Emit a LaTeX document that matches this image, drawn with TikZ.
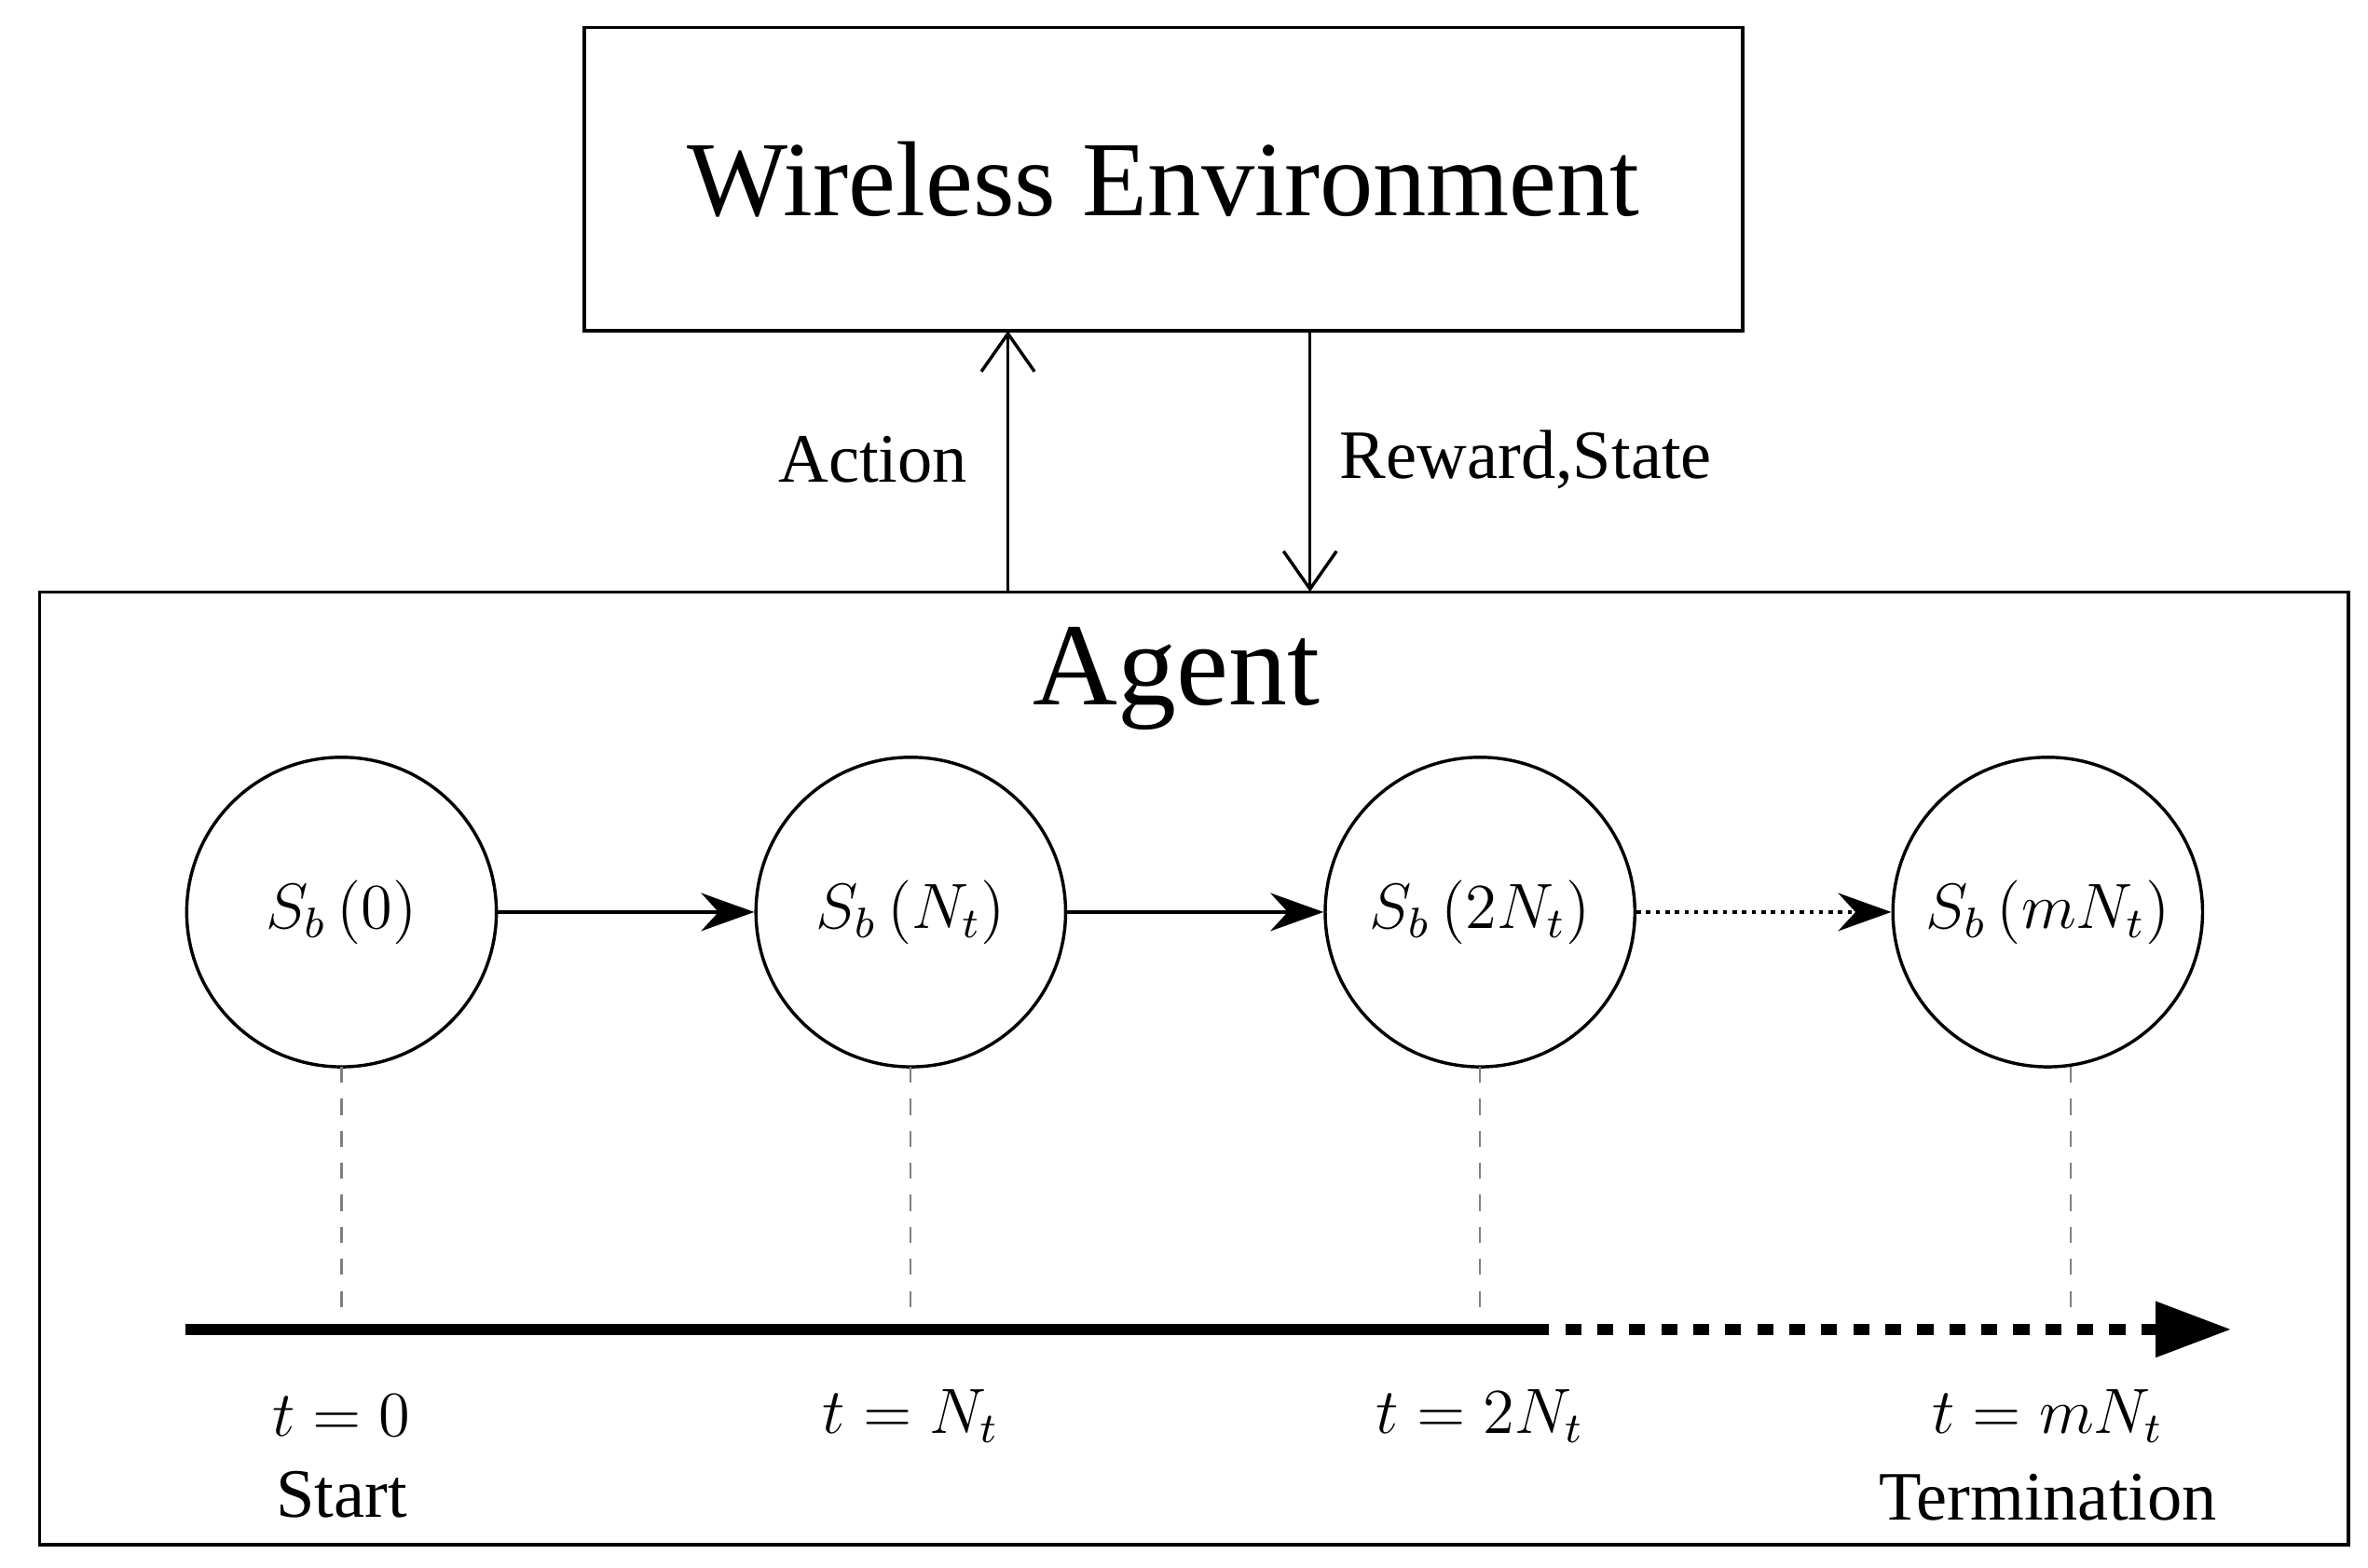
\documentclass[tikz,border=0pt]{standalone}
\usepackage{amsmath,amssymb}
\usepackage{fontspec}
\setmainfont{Liberation Serif}
\usetikzlibrary{arrows.meta}
\begin{document}
\begin{tikzpicture}[
    semithick,
    envbox/.style = {draw, minimum width=7.63cm, minimum height=2cm, font=\fontsize{20}{24}\selectfont},
    agentbox/.style = {draw, minimum width=15.21cm, minimum height=6.28cm},
    state/.style = {circle, draw, minimum size=2.04cm, inner sep=0pt, font=\large},
    line/.style = {-{Stealth[length=3.5mm,width=2.5mm]}, draw=black, thick},
    lbl/.style = {font=\fontsize{13}{15}\selectfont}
    ]
    \useasboundingbox (0,0) rectangle (15.6,10.33);
    \tikzstyle{drop_style} = [draw=gray, dashed, thin]
    \tikzstyle{axis_style} = [draw=black, line width=2.2pt]
    \node (Env) [envbox] at (7.665, 9.15) {Wireless Environment};
    \node (Agent) [agentbox] at (7.865, 3.29) {};
    \node [font=\fontsize{22}{26}\selectfont] at (7.75, 5.86) {Agent};

    % action / reward
    \coordinate (aB) at (6.64, 6.43);
    \coordinate (aT) at (6.64, 8.15);
    \coordinate (rT) at (8.63, 8.15);
    \coordinate (rB) at (8.63, 6.43);
    \draw[-{Straight Barb[length=2.5mm,width=3.5mm]}] (aB) -- (aT);
    \draw[-{Straight Barb[length=2.5mm,width=3.5mm]}] (rT) -- (rB);
    \node [lbl, anchor=east] at (6.5, 7.3) {Action};
    \node [lbl, anchor=west] at (8.7, 7.3) {Reward,State};

    % states
    \node[state] (s0) at (2.25, 4.32) {$S_b\left(0\right)$};
    \node[state] (s1) at (6.00, 4.32) {$S_b\left(N_t\right)$};
    \node[state] (s2) at (9.75, 4.32) {$S_b\left(2N_t\right)$};
    \node[state] (s3) at (13.49, 4.32) {$S_b\left(mN_t\right)$};
    \draw[line] (s0) -- (s1);
    \draw[line] (s1) -- (s2);
    \draw[line, densely dotted] (s2) -- (s3);

    % time axis
    \coordinate (ax0) at (1.22, 1.57);
    \coordinate (ax1) at (10.1, 1.57);
    \coordinate (ax2) at (14.7, 1.57);
    \draw[axis_style] (ax0) -- (ax1);
    \draw[axis_style, dashed, -{Triangle[length=5mm,width=3.5mm]}] (ax1) -- (ax2);
    \foreach \s/\x in {s0/2.25, s1/6.00, s2/9.75, s3/13.64} {
        \coordinate (h\s) at (\x, 3.30);
        \coordinate (t\s) at (\x, 1.67);
        \draw[drop_style] (h\s) -- (t\s);
    }
    \node[font=\large] (l0) at (2.25, 1.0) {$t=0$};
    \node[lbl] at (2.25, 0.48) {Start};
    \node[font=\large] (l1) at (6.0, 1.0) {$t=N_t$};
    \node[font=\large] (l2) at (9.75, 1.0) {$t=2N_t$};
    \node[font=\large] (l3) at (13.49, 1.0) {$t=mN_t$};
    \node[lbl] at (13.49, 0.46) {Termination};
\end{tikzpicture}
\end{document}
